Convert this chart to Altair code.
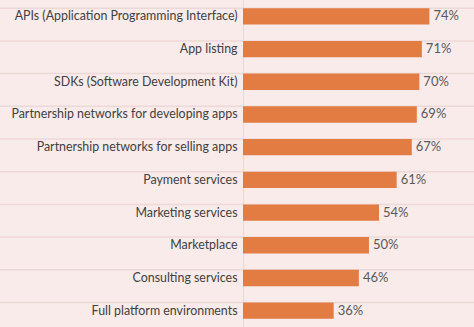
import altair as alt
import pandas as pd

categories = [
    "APIs (Application Programming Interface)",
    "App listing",
    "SDKs (Software Development Kit)",
    "Partnership networks for developing apps",
    "Partnership networks for selling apps",
    "Payment services",
    "Marketing services",
    "Marketplace",
    "Consulting services",
    "Full platform environments",
]
values = [74, 71, 70, 69, 67, 61, 54, 50, 46, 36]

df = pd.DataFrame({"cat": categories, "val": values})
df["label"] = df["val"].astype(str) + "%"

BG = "#f9ebe9"
yenc = alt.Y("cat:N", sort=categories, title=None,
             scale=alt.Scale(paddingInner=0.5, paddingOuter=0.25))
xscale = alt.Scale(domain=[0, 91.7])

base = alt.Chart(df)

seps = base.mark_rule(color="#ecd9d7", strokeWidth=1.5).encode(
    y=alt.Y("cat:N", sort=categories, bandPosition=0,
            scale=alt.Scale(paddingInner=0.5, paddingOuter=0.25), title=None),
    x=alt.value(-243), x2=alt.value(231),
)

bars = base.mark_bar(color="#e27c43").encode(
    y=yenc,
    x=alt.X("val:Q", scale=xscale, axis=None),
)

text = base.mark_text(align="left", baseline="middle", dx=4, fontSize=13,
                      font="Lato", color="#595959").encode(
    y=alt.Y("cat:N", sort=categories, title=None),
    x=alt.X("val:Q", scale=xscale),
    text="label:N",
)

chart = alt.layer(seps, bars, text).properties(
    width=231, height=327,
    padding={"left": 243, "top": 0, "right": 0, "bottom": 0},
    autosize=alt.AutoSizeParams(type="none"),
    background=BG,
).configure_view(stroke=None).configure_axisY(
    labelFont="Lato", labelFontSize=12.4, labelColor="#404040",
    ticks=False, domainColor="#dcdcdc", labelPadding=6, labelLimit=300,
    grid=False,
)

chart.save("out.html", embed_options={"renderer": "svg", "actions": False})
